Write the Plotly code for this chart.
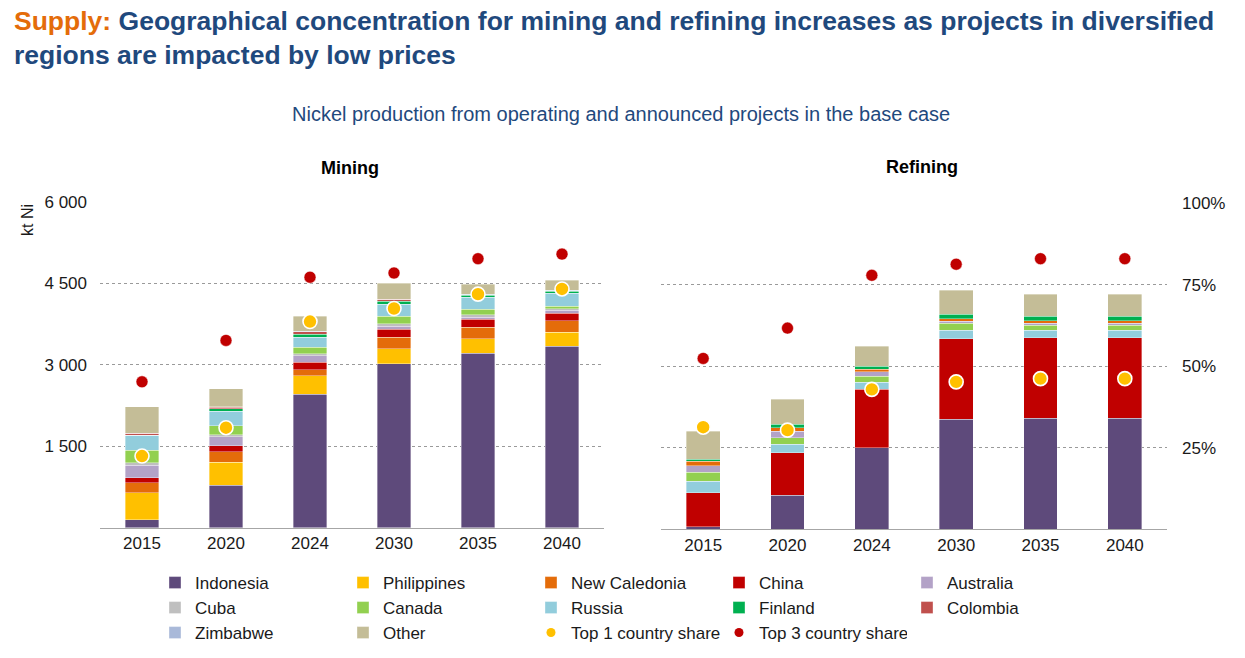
import plotly.graph_objects as go

W, H = 1245, 658

years = ['2015', '2020', '2024', '2030', '2035', '2040']

# Mining production by country (kt Ni)
mining_indonesia = [150, 782, 2457, 3022, 3212, 3340]
mining_philippines = [490, 423, 344, 276, 270, 264]
mining_new_caledonia = [185, 190, 110, 214, 214, 209]
mining_china = [98, 111, 135, 147, 141, 135]
mining_australia = [226, 165, 123, 55, 43, 55]
mining_cuba = [50, 44, 37, 44, 44, 31]
mining_canada = [226, 159, 116, 135, 97, 48]
mining_russia = [276, 270, 184, 226, 227, 240]
mining_finland = [5, 49, 61, 55, 37, 37]
mining_colombia = [30, 30, 44, 32, 10, 10]
mining_zimbabwe = [8, 8, 8, 5, 5, 5]
mining_other = [480, 332, 276, 294, 186, 186]

# Refining production by country (kt Ni)
refining_indonesia = [46, 624, 1500, 2028, 2041, 2041]
refining_china = [626, 784, 1075, 1478, 1484, 1484]
refining_russia = [215, 154, 129, 155, 141, 141]
refining_canada = [160, 122, 116, 129, 87, 87]
refining_australia = [122, 123, 79, 43, 42, 42]
refining_new_caledonia = [81, 61, 44, 41, 43, 43]
refining_finland = [42, 68, 61, 81, 86, 86]
refining_other = [515, 460, 368, 447, 399, 399]

# Country shares (%)
mining_top1_share = [22.0, 30.7, 63.3, 67.3, 71.7, 73.3]
mining_top3_share = [44.8, 57.5, 76.9, 78.2, 82.6, 84.0]
refining_top1_share = [31.3, 30.4, 42.9, 45.2, 46.2, 46.2]
refining_top3_share = [52.4, 61.7, 77.9, 81.3, 83.0, 83.0]

kt_ticks = [1500, 3000, 4500, 6000]
kt_labels = ['1 500', '3 000', '4 500', '6 000']
pct_ticks = [25, 50, 75, 100]
pct_labels = ['25%', '50%', '75%', '100%']

countries = ['Indonesia', 'Philippines', 'New Caledonia', 'China', 'Australia',
             'Cuba', 'Canada', 'Russia', 'Finland', 'Colombia', 'Zimbabwe', 'Other']
colors = {
    'Indonesia': '#5E4A7B', 'Philippines': '#FFC000', 'New Caledonia': '#E46C0A',
    'China': '#C00000', 'Australia': '#B3A2C7', 'Cuba': '#BFBFBF',
    'Canada': '#92D050', 'Russia': '#92CDDC', 'Finland': '#00B050',
    'Colombia': '#C0504D', 'Zimbabwe': '#A9B9D9', 'Other': '#C4BD97',
}
mining = {
    'Indonesia': mining_indonesia, 'Philippines': mining_philippines,
    'New Caledonia': mining_new_caledonia, 'China': mining_china,
    'Australia': mining_australia, 'Cuba': mining_cuba, 'Canada': mining_canada,
    'Russia': mining_russia, 'Finland': mining_finland, 'Colombia': mining_colombia,
    'Zimbabwe': mining_zimbabwe, 'Other': mining_other,
}
refining = [
    ('Indonesia', refining_indonesia), ('China', refining_china),
    ('Russia', refining_russia), ('Canada', refining_canada),
    ('Australia', refining_australia), ('New Caledonia', refining_new_caledonia),
    ('Finland', refining_finland), ('Other', refining_other),
]

legend_of = {}
for i, c in enumerate(countries):
    legend_of[c] = ['legend', 'legend2', 'legend3'][i // 5]

fig = go.Figure()
edge = dict(color='rgba(255,255,255,0.6)', width=0.6)

for c in countries:
    fig.add_trace(go.Bar(x=years, y=mining[c], name=c, marker=dict(color=colors[c], line=edge),
                         xaxis='x', yaxis='y', legend=legend_of[c], legendgroup=c))
for c, vals in refining:
    fig.add_trace(go.Bar(x=years, y=vals, name=c, marker=dict(color=colors[c], line=edge),
                         xaxis='x2', yaxis='y2', legendgroup=c, showlegend=False))

Y1 = '#FFC000'
R3 = '#C00000'
fig.add_trace(go.Scatter(x=years, y=mining_top1_share, mode='markers', xaxis='x', yaxis='y3',
                         marker=dict(color=Y1, size=14, line=dict(color='white', width=1.6)),
                         showlegend=False, legendgroup='t1'))
fig.add_trace(go.Scatter(x=years, y=mining_top3_share, mode='markers', xaxis='x', yaxis='y3',
                         marker=dict(color=R3, size=12, line=dict(color='white', width=0.5)),
                         showlegend=False, legendgroup='t3'))
fig.add_trace(go.Scatter(x=years, y=refining_top1_share, mode='markers', xaxis='x2', yaxis='y4',
                         marker=dict(color=Y1, size=14, line=dict(color='white', width=1.6)),
                         showlegend=False, legendgroup='t1'))
fig.add_trace(go.Scatter(x=years, y=refining_top3_share, mode='markers', xaxis='x2', yaxis='y4',
                         marker=dict(color=R3, size=12, line=dict(color='white', width=0.5)),
                         showlegend=False, legendgroup='t3'))
# legend-only entries with small dots
fig.add_trace(go.Scatter(x=[None], y=[None], mode='markers', name='Top 1 country share',
                         marker=dict(color=Y1, size=9), legend='legend3', legendgroup='t1',
                         xaxis='x', yaxis='y3'))
fig.add_trace(go.Scatter(x=[None], y=[None], mode='markers', name='Top 3 country share',
                         marker=dict(color=R3, size=9), legend='legend3', legendgroup='t3',
                         xaxis='x', yaxis='y3'))

FONT = 'Liberation Sans, Arial, sans-serif'
TICKF = dict(family=FONT, size=17, color='#1a1a1a')
grid = dict(showgrid=True, gridcolor='#9A9A9A', griddash='dot', gridwidth=1, zeroline=False)

def py(px):
    return 1 - px / H

def pxx(px):
    return px / W

fig.update_layout(
    width=W, height=H,
    margin=dict(l=0, r=0, t=0, b=0, pad=0, autoexpand=False),
    paper_bgcolor='white', plot_bgcolor='white',
    barmode='stack', bargap=0.6,
    font=dict(family=FONT, size=16, color='#1a1a1a'),
    xaxis=dict(domain=[pxx(100), pxx(604)], anchor='y', type='category', showline=True,
               linecolor='#A6A6A6', linewidth=1.2, ticks='', tickfont=TICKF, showgrid=False,
               automargin=False),
    yaxis=dict(domain=[py(527.7), py(202)], range=[0, 6000], tickvals=kt_ticks, ticktext=kt_labels,
               tickfont=TICKF, ticklabelstandoff=12, automargin=False, **grid),
    yaxis3=dict(overlaying='y', range=[0, 100], visible=False, showgrid=False, automargin=False),
    xaxis2=dict(domain=[pxx(661), pxx(1167)], anchor='y2', type='category', showline=True,
                linecolor='#A6A6A6', linewidth=1.2, ticks='', tickfont=TICKF, showgrid=False,
                automargin=False),
    yaxis2=dict(domain=[py(529.2), py(203.3)], range=[0, 6000], tickvals=kt_ticks,
                showticklabels=False, anchor='x2', automargin=False, **grid),
    yaxis4=dict(overlaying='y2', anchor='x2', side='right', range=[0, 100], tickvals=pct_ticks,
                ticktext=pct_labels, tickfont=TICKF, showgrid=False, zeroline=False,
                ticklabelstandoff=14, automargin=False),
    showlegend=True,
)

leg_common = dict(orientation='h', xanchor='left', yanchor='middle', entrywidth=143,
                  entrywidthmode='pixels', font=dict(family=FONT, size=17, color='#1a1a1a'),
                  bgcolor='rgba(0,0,0,0)', itemclick=False, itemdoubleclick=False)
fig.update_layout(
    legend=dict(x=pxx(155), y=py(583), **leg_common),
    legend2=dict(x=pxx(155), y=py(608), **leg_common),
    legend3=dict(x=pxx(155), y=py(633), **leg_common),
)

anns = [
    dict(x=pxx(12), y=py(4), xanchor='left', yanchor='top', align='left',
         text="<b><span style='color:#E46C0A'>Supply:</span> Geographical concentration for mining and refining increases as projects in diversified<br>regions are impacted by low prices</b>",
         font=dict(family=FONT, size=26.5, color='#1F497D')),
    dict(x=pxx(621), y=py(114), xanchor='center', yanchor='middle',
         text='Nickel production from operating and announced projects in the base case',
         font=dict(family=FONT, size=20, color='#1F497D')),
    dict(x=pxx(350), y=py(168), xanchor='center', yanchor='middle', text='<b>Mining</b>',
         font=dict(family=FONT, size=18, color='#000000')),
    dict(x=pxx(922), y=py(167), xanchor='center', yanchor='middle', text='<b>Refining</b>',
         font=dict(family=FONT, size=18, color='#000000')),
    dict(x=pxx(27), y=py(220), xanchor='center', yanchor='middle', text='kt Ni', textangle=-90,
         font=dict(family=FONT, size=16, color='#1a1a1a')),
]
for a in anns:
    a.update(xref='paper', yref='paper', showarrow=False)
fig.update_layout(annotations=anns)

fig.write_html('out.html')
